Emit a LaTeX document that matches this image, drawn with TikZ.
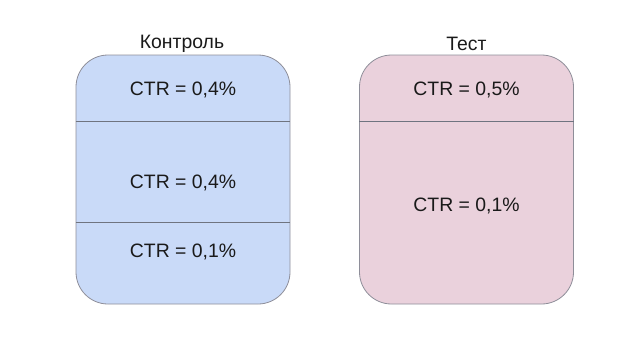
\documentclass[tikz,border=0pt]{standalone}
\usepackage{fontspec}
\setmainfont{Liberation Sans}
\definecolor{blueF}{HTML}{C9DAF8}
\definecolor{pinkF}{HTML}{EAD1DC}
\definecolor{edgeC}{HTML}{8E8E99}
\definecolor{lineC}{HTML}{6F7480}
\definecolor{txtC}{HTML}{1A1A1A}
\begin{document}
\begin{tikzpicture}[x=1pt,y=-1pt,
  panel/.style={draw=edgeC, line width=0.8pt, rounded corners=32pt, minimum width=214pt, minimum height=249pt, inner sep=0pt},
  divider/.style={draw=lineC, line width=0.7pt},
  lbl/.style={font=\fontsize{19.4}{21}\selectfont, text=txtC, inner sep=0pt}]
\useasboundingbox (0,0) rectangle (640,360);
\node[panel, fill=blueF] (ctrl) at (183,179.5) {};
\node[panel, fill=pinkF] (test) at (466.5,179.5) {};
\coordinate (la1) at (ctrl.west |- 0,121);
\coordinate (lb1) at (ctrl.east |- 0,121);
\coordinate (la2) at (ctrl.west |- 0,222);
\coordinate (lb2) at (ctrl.east |- 0,222);
\coordinate (ra1) at (test.west |- 0,121);
\coordinate (rb1) at (test.east |- 0,121);
\draw[divider] (la1) -- (lb1);
\draw[divider] (la2) -- (lb2);
\draw[divider] (ra1) -- (rb1);
\node[lbl] (tctrl) at (182,43.5) {Контроль};
\node[lbl] (ttest) at (466.5,43.5) {Тест};
\node[lbl] (c1) at (183,90) {CTR = 0,4\%};
\node[lbl] (c2) at (183,183) {CTR = 0,4\%};
\node[lbl] (c3) at (183,252) {CTR = 0,1\%};
\node[lbl] (t1) at (466.5,90) {CTR = 0,5\%};
\node[lbl] (t2) at (466.5,206) {CTR = 0,1\%};
\end{tikzpicture}
\end{document}
